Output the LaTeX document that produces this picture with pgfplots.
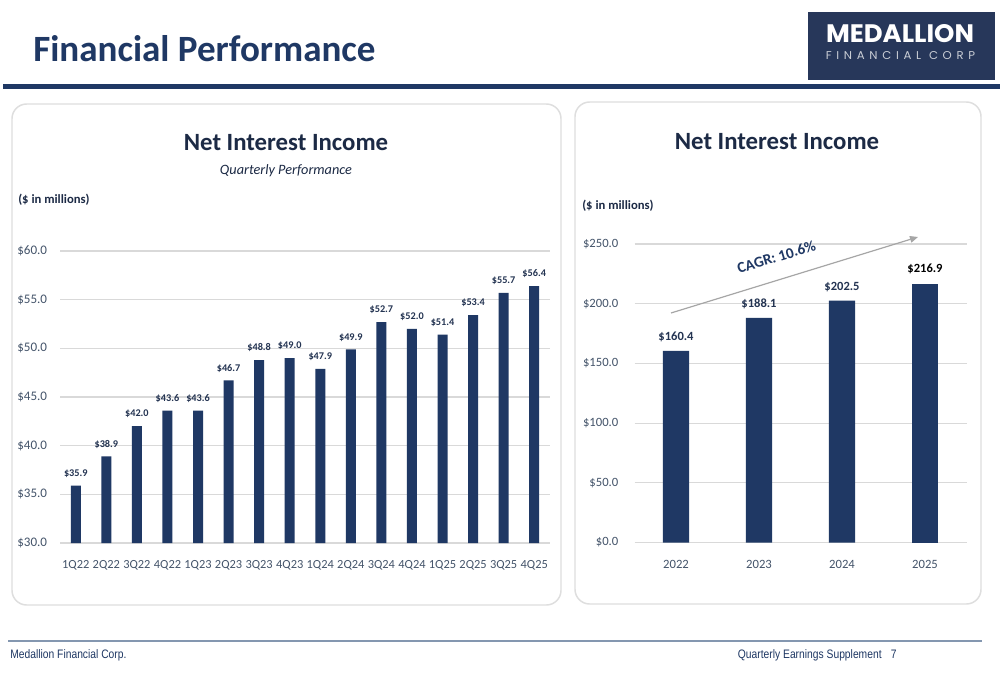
\documentclass[border=0pt]{standalone}
\usepackage{pgfplots}
\pgfplotsset{compat=1.18}
\usepackage{fontspec}
\usepackage{graphicx}
\usetikzlibrary{arrows.meta}
\setmainfont{Carlito}
\newfontfamily\footfont[FakeStretch=0.84]{Liberation Sans}
\newfontfamily\logofont{Poppins}
\newfontfamily\logothin[LetterSpace=40]{Poppins}
\definecolor{navy}{HTML}{1F3864}
\definecolor{barnavy}{HTML}{1F3864}
\definecolor{titlenavy}{HTML}{1F3864}
\definecolor{paneltitle}{HTML}{1C2A45}
\definecolor{ticktext}{HTML}{44546A}
\definecolor{labeltext}{HTML}{243452}
\definecolor{gridgray}{HTML}{D9D9D9}
\definecolor{panelborder}{HTML}{DEDEDE}
\definecolor{logobg}{HTML}{27375A}
\definecolor{logosub}{HTML}{C9CDD5}
\definecolor{footline}{HTML}{8497B0}
\definecolor{arrowgray}{HTML}{A6A6A6}

\pgfplotstableread{
x y
0 35.9
1 38.9
2 42.0
3 43.6
4 43.6
5 46.7
6 48.8
7 49.0
8 47.9
9 49.9
10 52.7
11 52.0
12 51.4
13 53.4
14 55.7
15 56.4
}\quarterly

\begin{document}
\begin{tikzpicture}[x=0.75pt,y=-0.75pt]
\path[use as bounding box, fill=white] (0,0) rectangle (1000,685);

% header
\node[anchor=base west, inner sep=0pt, text=titlenavy, font=\bfseries\fontsize{27.8}{30}\selectfont] at (33,62) {Financial Performance};
\fill[navy] (3,84) rectangle (1000,89.5);
\fill[logobg] (808,12) rectangle (995,80);
\node[inner sep=0pt, text=white] at (900,34) {\resizebox{111pt}{13.5pt}{\logofont\bfseries MEDALLION}};
\node[inner sep=0pt, text=logosub] at (900.5,56) {\resizebox{112pt}{6pt}{\logothin FINANCIAL CORP}};

% panels
\draw[panelborder, line width=1.1pt, rounded corners=11pt] (12,104) rectangle (561,605);
\draw[panelborder, line width=1.1pt, rounded corners=11pt] (575,102) rectangle (981,604);

% panel titles
\node[anchor=base, inner sep=0pt, text=paneltitle, font=\bfseries\fontsize{18.6}{20}\selectfont] at (286,151) {Net Interest Income};
\node[anchor=base, inner sep=0pt, text=paneltitle, font=\itshape\fontsize{10.7}{12}\selectfont] at (286,174) {Quarterly Performance};
\node[anchor=base west, inner sep=0pt, text=paneltitle, font=\bfseries\fontsize{9.5}{11}\selectfont] at (18,203) {(\$ in millions)};
\node[anchor=base, inner sep=0pt, text=paneltitle, font=\bfseries\fontsize{18.6}{20}\selectfont] at (777,149) {Net Interest Income};
\node[anchor=base west, inner sep=0pt, text=paneltitle, font=\bfseries\fontsize{9.5}{11}\selectfont] at (582,209) {(\$ in millions)};

% left chart
\begin{axis}[
  at={(45.375pt,-407.25pt)}, anchor=south west,
  scale only axis, width=366.75pt, height=219pt,
  xmin=-0.5, xmax=15.5, ymin=30, ymax=60,
  ytick={30,35,40,45,50,55,60},
  xtick=data,
  xticklabels={1Q22,2Q22,3Q22,4Q22,1Q23,2Q23,3Q23,4Q23,1Q24,2Q24,3Q24,4Q24,1Q25,2Q25,3Q25,4Q25},
  /pgf/number format/assume math mode=true,
  yticklabel={\$\pgfmathprintnumber[fixed,fixed zerofill,precision=1]{\tick}},
  tick label style={font=\fontsize{9.3}{11}\selectfont, text=ticktext},
  yticklabel style={xshift=-6.5pt, font=\fontsize{9.8}{11}\selectfont},
  xticklabel style={yshift=-9.5pt},
  major tick length=0pt,
  axis line style={draw=none},
  ymajorgrids, grid style={draw=gridgray, line width=0.9pt},
  ybar, bar width=7.5pt,
  clip=false,
  nodes near coords={\$\pgfmathprintnumber[fixed,fixed zerofill,precision=1]{\pgfplotspointmeta}},
  every node near coord/.append style={font=\bfseries\fontsize{7.7}{9}\selectfont, text=labeltext, yshift=2.6pt},
]
\addplot[fill=barnavy, draw=none] table[x=x,y=y] {\quarterly};
\end{axis}

% right chart
\begin{axis}[
  at={(475.875pt,-406.875pt)}, anchor=south west,
  scale only axis, width=249pt, height=223.875pt,
  xmin=-0.5, xmax=3.5, ymin=0, ymax=250,
  ytick={0,50,100,150,200,250},
  xtick={0,1,2,3},
  xticklabels={2022,2023,2024,2025},
  /pgf/number format/assume math mode=true,
  yticklabel={\$\pgfmathprintnumber[fixed,fixed zerofill,precision=1]{\tick}},
  tick label style={font=\fontsize{9.5}{11}\selectfont, text=ticktext},
  yticklabel style={xshift=-8.6pt},
  xticklabel style={yshift=-9.8pt},
  major tick length=0pt,
  axis line style={draw=none},
  ymajorgrids, grid style={draw=gridgray, line width=0.9pt},
  ybar, bar width=19.7pt, bar shift=0pt,
  clip=false,
  nodes near coords={\$\pgfmathprintnumber[fixed,fixed zerofill,precision=1]{\pgfplotspointmeta}},
  every node near coord/.append style={font=\bfseries\fontsize{9.4}{11}\selectfont, yshift=3.5pt},
]
\addplot[fill=barnavy, draw=none, every node near coord/.append style={text=labeltext}] coordinates {(0,160.4) (1,188.1) (2,202.5)};
\addplot[fill=barnavy, draw=none, every node near coord/.append style={text=black}] coordinates {(3,216.9)};
\end{axis}

% CAGR arrow
\draw[arrowgray, line width=0.9pt, -{Triangle[length=6pt,width=5pt]}] (671,313) -- (918,237);
\node[rotate=17, text=titlenavy, font=\bfseries\fontsize{11.4}{13}\selectfont, inner sep=0pt] at (776.5,257) {CAGR: 10.6\%};

% footer
\draw[footline, line width=1pt] (8,641) -- (982,641);
\node[anchor=west, inner sep=0pt, font=\footfont\fontsize{9.2}{11}\selectfont, text=navy] at (10,655) {Medallion Financial Corp.};
\node[anchor=east, inner sep=0pt, font=\footfont\fontsize{9.2}{11}\selectfont, text=navy] at (897,655) {Quarterly Earnings Supplement\hspace{7pt}7};
\end{tikzpicture}
\end{document}
